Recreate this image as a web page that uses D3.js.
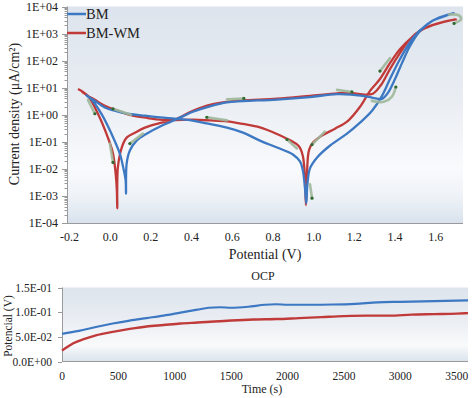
<!DOCTYPE html>
<html><head><meta charset="utf-8">
<script src="https://cdn.jsdelivr.net/npm/d3@7"></script>
<style>body{margin:0;background:#fff}svg{display:block}</style>
</head><body>
<svg id="c" width="474" height="398"></svg>
<script>
// ---------- Polarization data (Potential V, current density µA/cm²) ----------
const bmV = [-0.115,-0.099,-0.042,0.007,0.048,0.064,0.076,0.078,0.081,0.097,0.130,0.179,0.253,0.318,0.407,0.490,0.574,0.653,0.820,0.982,1.115,1.242,1.291,1.336,1.365,1.400,1.434,1.473,1.522,1.586,1.641,1.690,
  1.616,1.557,1.488,1.424,1.375,1.336,1.287,1.228,1.164,1.081,1.017,0.982,0.969,0.964,0.957,0.947,0.933,0.898,0.820,0.736,0.653,0.574,0.456,0.392,0.318,0.245,0.171,0.057,-0.026,-0.075,-0.109,-0.120];
const bmI = [5.0,4.21,1.06,0.196,0.036,0.0116,0.0038,0.00123,0.0155,0.048,0.111,0.20,0.395,0.64,1.29,2.05,2.88,3.18,3.64,4.5,5.76,5.0,4.21,3.87,6.4,20.9,81,340,1211,3065,4295,5770,
  3900,2185,687,113,20.9,4.98,1.40,0.509,0.20,0.073,0.0264,0.0104,0.0025,0.00054,0.0021,0.0088,0.0188,0.034,0.0615,0.111,0.218,0.333,0.509,0.628,0.713,0.796,0.92,1.21,1.85,3.26,4.7,5.5];
const bmwmV = [-0.158,-0.109,-0.060,-0.011,0.014,0.027,0.033,0.035,0.038,0.057,0.081,0.122,0.171,0.235,0.318,0.407,0.490,0.574,0.653,0.820,0.982,1.115,1.178,1.242,1.291,1.331,1.375,1.424,1.473,1.533,1.611,1.700,
  1.640,1.547,1.483,1.424,1.375,1.326,1.277,1.228,1.169,1.105,1.041,0.997,0.977,0.967,0.962,0.957,0.947,0.933,0.918,0.869,0.820,0.736,0.653,0.574,0.490,0.407,0.318,0.245,0.186,0.106,0.038,-0.026,-0.075,-0.109,-0.139];
const bmwmI = [9.0,4.98,1.09,0.143,0.037,0.0068,0.0016,0.00035,0.0114,0.0615,0.143,0.218,0.333,0.468,0.656,1.40,2.33,3.0,3.4,3.9,5.0,6.2,6.4,5.6,6.0,12.6,48.8,188,615,1433,2375,3335,
  2700,1560,728,264,81,20.9,7.6,1.97,0.60,0.306,0.17,0.094,0.048,0.0058,0.00046,0.0058,0.03,0.06,0.08,0.13,0.195,0.342,0.456,0.568,0.618,0.656,0.64,0.66,0.757,0.94,1.40,2.14,3.55,4.98,6.98];
const polXTicks = [-0.2,0,0.2,0.4,0.6,0.8,1.0,1.2,1.4,1.6];
const polYTicks = [1e-4,1e-3,1e-2,1e-1,1e0,1e1,1e2,1e3,1e4];
const polYLabels = ["1E-04","1E-03","1E-02","1E-01","1E+00","1E+01","1E+02","1E+03","1E+04"];
// scan-direction arrows (V, µA/cm²), head at last point
const scanArrows = [
  [[-0.109,3.55],[-0.075,1.09]],
  [[-0.001,0.086],[0.014,0.0173]],
  [[0.102,1.0],[0.014,1.66]],
  [[0.161,0.201],[0.097,0.086]],
  [[0.574,3.7],[0.657,4.0]],
  [[0.574,0.62],[0.475,0.81]],
  [[0.918,0.057],[0.869,0.122]],
  [[1.115,8.3],[1.188,6.98]],
  [[1.055,0.238],[0.992,0.079]],
  [[0.982,0.0027],[0.992,0.00083]],
  [[1.375,124],[1.326,41]],
  [[1.286,3.26],[1.345,3.0],[1.384,4.58],[1.404,10.6]],
  [[1.665,5085],[1.714,4670],[1.724,3335],[1.690,2375]]
];

// ---------- OCP data ----------
const ocpTime = [0,150,300,450,600,750,900,1050,1200,1300,1400,1500,1650,1800,1900,2000,2200,2400,2600,2800,3000,3200,3400,3600];
const ocpBM   = [0.056,0.062,0.070,0.077,0.083,0.088,0.093,0.099,0.105,0.109,0.110,0.109,0.111,0.115,0.116,0.115,0.115,0.1155,0.117,0.120,0.121,0.122,0.123,0.124];
const ocpTime2 = [0,50,100,200,300,450,600,750,900,1050,1200,1350,1500,1700,1900,2100,2300,2500,2700,2900,3100,3300,3500,3600];
const ocpBMWM = [0.022,0.030,0.037,0.046,0.053,0.060,0.066,0.071,0.074,0.077,0.079,0.081,0.083,0.085,0.086,0.088,0.090,0.092,0.093,0.093,0.095,0.096,0.097,0.098];
const ocpXTicks = [0,500,1000,1500,2000,2500,3000,3500];
const ocpYTicks = [0,0.05,0.10,0.15];
const ocpYLabels = ["0.0E+00","5.0E-02","1.0E-01","1.5E-01"];

const BLUE = "#3d78c3", RED = "#c13a3a";
const FONT = "'Liberation Serif','Times New Roman',serif";
const svg = d3.select("#c");
const defs = svg.append("defs");
function grad(id, stops){
  const g = defs.append("linearGradient").attr("id",id).attr("x1",0).attr("y1",0).attr("x2",0).attr("y2",1);
  stops.forEach(s=>g.append("stop").attr("offset",s[0]).attr("stop-color",s[1]));
}
grad("bg1",[[0,"#dde4ed"],[0.45,"#eaeef3"],[0.75,"#f9fafc"],[0.88,"#eef2f7"],[1,"#d8e2ed"]]);
grad("bg2",[[0,"#dde4ed"],[0.5,"#eceff4"],[0.78,"#f9fafb"],[1,"#dae3ed"]]);

// ---------- Top chart ----------
const TOP = 6.5;
const x1 = d3.scaleLinear().domain([-0.212,1.734]).range([67,463]);
const y1 = d3.scaleLog().domain([1e-4,1e4]).range([223,TOP]);
svg.append("rect").attr("x",67).attr("y",TOP).attr("width",396).attr("height",223-TOP).attr("fill","url(#bg1)");

// y axis with minor ticks
const ax = svg.append("g").attr("stroke","#9a9a9a").attr("stroke-width",1);
ax.append("line").attr("x1",67.5).attr("x2",67.5).attr("y1",TOP).attr("y2",223);
ax.append("line").attr("x1",67).attr("x2",463).attr("y1",223.5).attr("y2",223.5);
const minor = [];
for(let d=-4; d<4; d++) for(let k=1;k<10;k++) minor.push(k*Math.pow(10,d));
minor.push(1e4);
ax.selectAll("line.t").data(minor).join("line").attr("class","t")
  .attr("x1",d=>Math.abs(Math.log10(d)-Math.round(Math.log10(d)))<1e-6?62:64.5).attr("x2",67)
  .attr("y1",d=>Math.round(y1(d))+0.5).attr("y2",d=>Math.round(y1(d))+0.5);

svg.append("g").selectAll("text").data(polYTicks).join("text")
  .attr("x",58).attr("y",d=>y1(d)+4).attr("text-anchor","end")
  .attr("font-family",FONT).attr("font-size",12).attr("fill","#222")
  .text((d,i)=>polYLabels[i]);
svg.append("g").selectAll("text").data(polXTicks).join("text")
  .attr("x",d=>x1(d)).attr("y",241).attr("text-anchor","middle")
  .attr("font-family",FONT).attr("font-size",12).attr("fill","#222")
  .text(d=>d3.format(".1f")(d).replace("−","-"));

svg.append("text").attr("x",265).attr("y",259).attr("text-anchor","middle")
  .attr("font-family",FONT).attr("font-size",14).attr("fill","#222").text("Potential (V)");
svg.append("text").attr("transform","translate(19,114) rotate(-90)").attr("text-anchor","middle")
  .attr("font-family",FONT).attr("font-size",14).attr("fill","#222").text("Current density (μA/cm²)");

const line1 = d3.line().x(d=>x1(d[0])).y(d=>y1(d[1])).curve(d3.curveCatmullRom.alpha(0.5));
const redPts = bmwmV.map((v,i)=>[v,bmwmI[i]]);
const bluePts = bmV.map((v,i)=>[v,bmI[i]]);
svg.append("path").attr("d",line1(redPts)).attr("fill","none").attr("stroke",RED).attr("stroke-width",2.3).attr("stroke-linejoin","round");
svg.append("path").attr("d",line1(bluePts)).attr("fill","none").attr("stroke",BLUE).attr("stroke-width",2.3).attr("stroke-linejoin","round");

// arrows
const arrowLine = d3.line().x(d=>x1(d[0])).y(d=>y1(d[1])).curve(d3.curveCatmullRom.alpha(0.5));
const ag = svg.append("g");
scanArrows.forEach(a=>{
  ag.append("path").attr("d",arrowLine(a)).attr("fill","none").attr("stroke","#9fb79a").attr("stroke-width",2.6).attr("stroke-linecap","round").attr("opacity",0.9);
  const h = a[a.length-1];
  ag.append("circle").attr("cx",x1(h[0])).attr("cy",y1(h[1])).attr("r",1.6).attr("fill","#2f6a2f");
});

// legend
const leg = [["BM",BLUE,14],["BM-WM",RED,33]];
leg.forEach(l=>{
  svg.append("line").attr("x1",67).attr("x2",86).attr("y1",l[2]).attr("y2",l[2]).attr("stroke",l[1]).attr("stroke-width",2.5);
  svg.append("text").attr("x",86).attr("y",l[2]+5).attr("font-family",FONT).attr("font-size",14.5).attr("fill","#222").text(l[0]);
});

// ---------- Bottom chart ----------
const x2 = d3.scaleLinear().domain([0,3600]).range([62,468]);
const y2 = d3.scaleLinear().domain([0,0.15]).range([361.5,287.5]);
svg.append("rect").attr("x",62).attr("y",287.5).attr("width",406).attr("height",74).attr("fill","url(#bg2)");
const ax2 = svg.append("g").attr("stroke","#9a9a9a");
ax2.append("line").attr("x1",62.5).attr("x2",62.5).attr("y1",287.5).attr("y2",362);
ax2.append("line").attr("x1",62).attr("x2",468).attr("y1",361.5).attr("y2",361.5);
ax2.selectAll("line.t").data(ocpYTicks).join("line").attr("class","t")
  .attr("x1",58).attr("x2",62).attr("y1",d=>Math.round(y2(d))+0.5).attr("y2",d=>Math.round(y2(d))+0.5);

svg.append("text").attr("x",263).attr("y",280).attr("text-anchor","middle")
  .attr("font-family",FONT).attr("font-size",12).attr("fill","#222").text("OCP");
svg.append("g").selectAll("text").data(ocpYTicks).join("text")
  .attr("x",52).attr("y",d=>y2(d)+4).attr("text-anchor","end")
  .attr("font-family",FONT).attr("font-size",11.5).attr("fill","#222")
  .text((d,i)=>ocpYLabels[i]);
svg.append("g").selectAll("text").data(ocpXTicks).join("text")
  .attr("x",d=>x2(d)).attr("y",380).attr("text-anchor","middle")
  .attr("font-family",FONT).attr("font-size",11.5).attr("fill","#222").text(d=>d);
svg.append("text").attr("x",262).attr("y",393).attr("text-anchor","middle")
  .attr("font-family",FONT).attr("font-size",12).attr("fill","#222").text("Time (s)");
svg.append("text").attr("transform","translate(12,326) rotate(-90)").attr("text-anchor","middle")
  .attr("font-family",FONT).attr("font-size",11.5).attr("fill","#222").text("Potencial (V)");

const line2 = d3.line().x(d=>x2(d[0])).y(d=>y2(d[1])).curve(d3.curveMonotoneX);
svg.append("path").attr("d",line2(ocpTime2.map((t,i)=>[t,ocpBMWM[i]]))).attr("fill","none").attr("stroke",RED).attr("stroke-width",2.4);
svg.append("path").attr("d",line2(ocpTime.map((t,i)=>[t,ocpBM[i]]))).attr("fill","none").attr("stroke",BLUE).attr("stroke-width",2.2);
</script>
</body></html>
